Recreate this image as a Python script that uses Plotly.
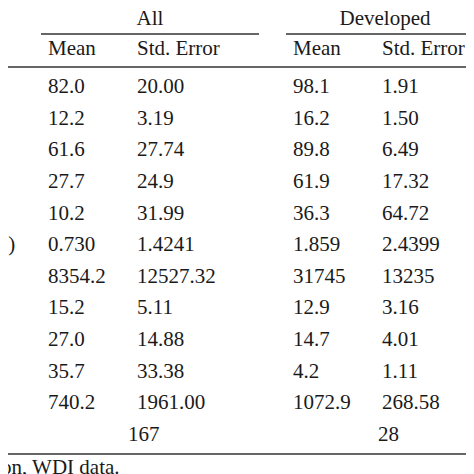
import plotly.graph_objects as go

all_mean = ["82.0", "12.2", "61.6", "27.7", "10.2", "0.730", "8354.2", "15.2", "27.0", "35.7", "740.2"]
all_se = ["20.00", "3.19", "27.74", "24.9", "31.99", "1.4241", "12527.32", "5.11", "14.88", "33.38", "1961.00"]
dev_mean = ["98.1", "16.2", "89.8", "61.9", "36.3", "1.859", "31745", "12.9", "14.7", "4.2", "1072.9"]
dev_se = ["1.91", "1.50", "6.49", "17.32", "64.72", "2.4399", "13235", "3.16", "4.01", "1.11", "268.58"]
n_obs = ["167", "28"]
row_labels = ["", "", "", "", "", "D)", "", "", "", "", ""]

font = dict(family="Liberation Serif", size=21, color="#1a1a1a")
y0, dy = 80, 31.6
rows = [y0 + i * dy for i in range(len(all_mean))]
sh = -7  # text padding offset

fig = go.Figure()
for xpos, col in [(47, all_mean), (136, all_se), (292, dev_mean), (381, dev_se), (-8, row_labels)]:
    fig.add_trace(go.Scatter(x=[xpos + sh] * len(col), y=rows, text=col, mode="text",
                             textposition="middle right", textfont=font, hoverinfo="skip"))

fig.add_trace(go.Scatter(x=[127 + sh, 377 + sh], y=[y0 + 11 * dy] * 2, text=n_obs, mode="text",
                         textposition="middle right", textfont=font, hoverinfo="skip"))
fig.add_trace(go.Scatter(x=[47 + sh, 136 + sh, 292 + sh, 381 + sh], y=[42] * 4,
                         text=["Mean", "Std. Error", "Mean", "Std. Error"],
                         mode="text", textposition="middle right", textfont=font, hoverinfo="skip"))
fig.add_trace(go.Scatter(x=[142, 377], y=[12, 12], text=["All", "Developed"], mode="text",
                         textposition="middle center", textfont=font, hoverinfo="skip"))
fig.add_trace(go.Scatter(x=[sh], y=[461], text=["on, WDI data."], mode="text",
                         textposition="middle right", textfont=font, hoverinfo="skip"))

line = dict(color="#333", width=1.5)
fig.add_shape(type="line", x0=33, x1=251, y0=26, y1=26, line=line)
fig.add_shape(type="line", x0=278, x1=480, y0=26, y1=26, line=line)
fig.add_shape(type="line", x0=-5, x1=480, y0=59, y1=59, line=line)
fig.add_shape(type="line", x0=-5, x1=480, y0=446, y1=446, line=line)

fig.update_layout(
    width=474, height=474, margin=dict(l=0, r=0, t=0, b=0),
    paper_bgcolor="white", plot_bgcolor="white", showlegend=False,
    xaxis=dict(range=[0, 474], visible=False, fixedrange=True),
    yaxis=dict(range=[474, 0], visible=False, fixedrange=True),
)
fig.write_html("out.html")
